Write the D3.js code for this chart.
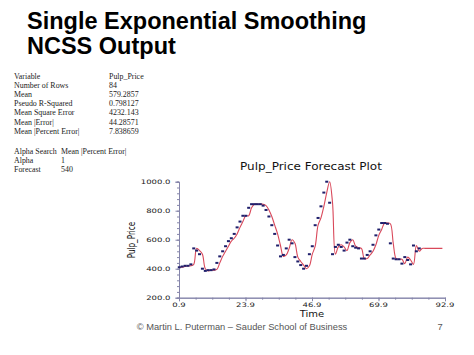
<!DOCTYPE html>
<html>
<head>
<meta charset="utf-8">
<script src="https://cdn.jsdelivr.net/npm/d3@7"></script>
<style>
  html, body { margin: 0; padding: 0; background: #fff; }
  svg { display: block; }
</style>
</head>
<body>
<svg id="chart" width="474" height="355"></svg>
<script>
// ---------- data ----------
const titleLines = ["Single Exponential Smoothing", "NCSS Output"];
const statLabels = ["Variable", "Number of Rows", "Mean", "Pseudo R-Squared",
  "Mean Square Error", "Mean |Error|", "Mean |Percent Error|"];
const statValues = ["Pulp_Price", "84", "579.2857", "0.798127", "4232.143", "44.28571", "7.838659"];
const searchLabels = ["Alpha Search", "Alpha", "Forecast"];
const searchValues = ["Mean |Percent Error|", "1", "540"];

const chartTitle = "Pulp_Price Forecast Plot";
const xLabel = "Time";
const yLabel = "Pulp_Price";
const footer = "\u00A9 Martin L. Puterman \u2013 Sauder School of Business";
const pageNumber = "7";

const pulpPrice = [
  410, 415, 420, 420, 430, 540, 525, 500, 400, 385,
  390, 390, 395, 440, 485, 520, 555, 590, 610, 640,
  685, 725, 765, 765, 820, 845, 845, 845, 845, 835,
  805, 760, 700, 640, 560, 485, 495, 540, 600, 575,
  480, 450, 425, 400, 420, 500, 555, 700, 750, 830,
  925, 1000, 855, 500, 550, 565, 550, 525, 580, 600,
  555, 545, 540, 470, 470, 495, 520, 565, 630, 670,
  715, 715, 710, 575, 470, 465, 465, 435, 480, 460,
  430, 560, 520, 540
];
const forecastValue = 540;
const forecastEnd = 92;

const xTicks = [0.9, 23.9, 46.9, 69.9, 92.9];
const yTicks = [200, 400, 600, 800, 1000];
const xMinorStep = 5.75;
const yMinorStep = 40;

// ---------- layout ----------
const svg = d3.select("#chart");
const plotLeft = 179, plotRight = 445, plotTop = 181.7, plotBottom = 297.7;

const x = d3.scaleLinear().domain([0.9, 92.9]).range([plotLeft, plotRight]);
const y = d3.scaleLinear().domain([200, 1000]).range([plotBottom, plotTop]);

// Slide title
svg.append("g").selectAll("text").data(titleLines).join("text")
  .attr("x", 27).attr("y", (d, i) => 29 + i * 24.5)
  .attr("font-family", "'Liberation Sans', Arial, sans-serif")
  .attr("font-weight", "bold").attr("font-size", 23.5)
  .attr("fill", "#000").text(d => d);

// Stats table
const serif = "'Liberation Serif', 'Times New Roman', serif";
const stats = svg.append("g").attr("font-family", serif).attr("font-size", 7.9).attr("fill", "#222");
statLabels.forEach((s, i) => {
  stats.append("text").attr("x", 14).attr("y", 78.7 + i * 9.17).text(s);
  stats.append("text").attr("x", 109).attr("y", 78.7 + i * 9.17).text(statValues[i]);
});
searchLabels.forEach((s, i) => {
  stats.append("text").attr("x", 14).attr("y", 154.3 + i * 9).text(s);
  stats.append("text").attr("x", 61).attr("y", 154.3 + i * 9).text(searchValues[i]);
});

// Chart title
const sans = "'DejaVu Sans', Verdana, sans-serif";
svg.append("text")
  .attr("transform", "translate(311,170) scale(1,0.8)")
  .attr("text-anchor", "middle")
  .attr("font-family", sans).attr("font-size", 12).attr("fill", "#111")
  .text(chartTitle);

// Axes
const axisColor = "#8585aa";
const yMinor = d3.range(200, 1000 + 1, yMinorStep);
const xMinor = d3.range(0.9, 92.9 + 0.01, xMinorStep);

const gy = svg.append("g").attr("transform", `translate(${plotLeft},0)`)
  .call(d3.axisLeft(y).tickValues(yMinor).tickSize(2).tickFormat(""));
const gy2 = svg.append("g").attr("transform", `translate(${plotLeft},0)`)
  .call(d3.axisLeft(y).tickValues(yTicks).tickSize(3.5).tickFormat(""));
const gx = svg.append("g").attr("transform", `translate(0,${plotBottom})`)
  .call(d3.axisBottom(x).tickValues(xMinor).tickSize(2).tickFormat(""));
const gx2 = svg.append("g").attr("transform", `translate(0,${plotBottom})`)
  .call(d3.axisBottom(x).tickValues(xTicks).tickSize(3.5).tickFormat(""));
[gy, gy2, gx, gx2].forEach(g => {
  g.selectAll(".domain").attr("stroke", axisColor).attr("stroke-width", 1);
  g.selectAll(".tick line").attr("stroke", axisColor).attr("stroke-width", 1);
});

// Tick labels
const fmt = d3.format(".1f");
svg.append("g").selectAll("text").data(yTicks).join("text")
  .attr("transform", d => `translate(${plotLeft - 8.5},${y(d) + 2.2}) scale(1,0.72)`)
  .attr("text-anchor", "end")
  .attr("font-family", sans).attr("font-size", 8.5).attr("fill", "#222")
  .text(d => fmt(d));
svg.append("g").selectAll("text").data(xTicks).join("text")
  .attr("transform", d => `translate(${x(d)},${plotBottom + 9.2}) scale(1,0.72)`)
  .attr("text-anchor", "middle")
  .attr("font-family", sans).attr("font-size", 8.5).attr("fill", "#222")
  .text(d => fmt(d));

// Axis titles
svg.append("text")
  .attr("transform", "translate(312,316.8) scale(1,0.8)")
  .attr("text-anchor", "middle")
  .attr("font-family", sans).attr("font-size", 10).attr("fill", "#111")
  .text(xLabel);
svg.append("text")
  .attr("transform", "translate(134.5,240) scale(1,0.72) rotate(-90)")
  .attr("text-anchor", "middle")
  .attr("font-family", sans).attr("font-size", 10).attr("fill", "#111")
  .text(yLabel);

// Forecast line (alpha = 1: forecast equals previous actual)
const forecastPts = [{ t: 1, v: pulpPrice[0] }];
pulpPrice.forEach((v, i) => forecastPts.push({ t: i + 2, v: v }));
d3.range(pulpPrice.length + 2, forecastEnd + 1).forEach(t => forecastPts.push({ t: t, v: forecastValue }));

svg.append("path")
  .datum(forecastPts)
  .attr("fill", "none")
  .attr("stroke", "#d9485a")
  .attr("stroke-width", 1.1)
  .attr("d", d3.line().x(d => x(d.t)).y(d => y(d.v)).curve(d3.curveCatmullRom.alpha(0.5)));

// Actual points
svg.append("g").selectAll("rect").data(pulpPrice).join("rect")
  .attr("x", (d, i) => x(i + 1) - 1.5)
  .attr("y", d => y(d) - 1)
  .attr("width", 3).attr("height", 2)
  .attr("fill", "#1f1f6b");

// Footer
svg.append("text")
  .attr("x", 242).attr("y", 329.5)
  .attr("text-anchor", "middle")
  .attr("font-family", "'Liberation Sans', Arial, sans-serif")
  .attr("font-size", 9.3).attr("fill", "#555")
  .text(footer);
svg.append("text")
  .attr("x", 440).attr("y", 329.5)
  .attr("text-anchor", "middle")
  .attr("font-family", "'Liberation Sans', Arial, sans-serif")
  .attr("font-size", 9.3).attr("fill", "#555")
  .text(pageNumber);
</script>
</body>
</html>
